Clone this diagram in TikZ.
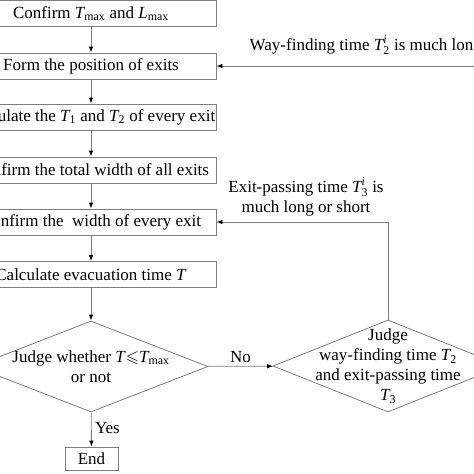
\documentclass[tikz,border=0pt]{standalone}
\usepackage{amssymb}
\usepackage{amsmath}
\usepackage{fontspec}
\setmainfont{Liberation Serif}
\usetikzlibrary{shapes.geometric,arrows.meta}
\definecolor{linegray}{RGB}{125,125,125}
\tikzset{
  box/.style={draw=linegray,minimum width=250pt,minimum height=26pt,inner sep=0pt},
  dia/.style={draw=linegray,diamond,inner sep=0pt},
  arr/.style={draw=linegray,-{Latex[length=6pt,width=4.5pt,black]}},
}
\newcommand{\Tmax}{$\textit{T}_{\text{max}}$}

\begin{document}
\begin{tikzpicture}[x=1pt,y=-1pt,line width=0.8pt,font=\fontsize{17}{20}\selectfont]
\useasboundingbox (0,0) rectangle (474,474);
\node[box] (0) at (91,13.5) {Confirm \Tmax{} and $\textit{L}_{\text{max}}$};
\node[box] (1) at (91,66) {Form the position of exits};
\node[box] (2) at (91,117) {Calculate the $\textit{T}_{\text{1}}$ and $\textit{T}_{\text{2}}$ of every exit};
\node[box] (3) at (91,170) {Confirm the total width of all exits};
\node[box] (4) at (91,222) {Confirm the\ \ width of every exit};
\node[box] (5) at (91,274.5) {Calculate evacuation time \textit{T}};
\node[dia,minimum width=234pt,minimum height=91pt,
  label={[align=center]center:Judge whether \textit{T}$\leqslant$\Tmax\\or not}] (6) at (91,366.5) {};
\node[dia,minimum width=230pt,minimum height=92pt,
  label={[align=center]center:Judge\\way-finding time $\textit{T}_{\text{2}}$\\and exit-passing time\\$\textit{T}_{\text{3}}$}] (7) at (388,366) {};
\node[box,minimum width=53pt,minimum height=23pt] (8) at (91.5,458.5) {End};
\node[anchor=west] (9) at (246,45) {Way-finding time $\textit{T}_{\text{2}}^{\textit{i}}$ is much long or short};
\node[align=center] (10) at (306,197) {Exit-passing time $\textit{T}_{\text{3}}^{\textit{i}}$ is\\much long or short};
\coordinate (11) at (480,66);
% main chain
\draw[arr] (0)--(1);
\draw[arr] (1)--(2);
\draw[arr] (2)--(3);
\draw[arr] (3)--(4);
\draw[arr] (4)--(5);
\draw[arr] (5)--(6);
\draw[arr] (6)--(8) node[pos=0.45,right]{Yes};
\draw[arr] (6)--(7) node[midway,above]{No};
% feedback
\draw[arr] (7.north) |- (4.east);
\draw[arr] (11)--(1.east);
\end{tikzpicture}
\end{document}
